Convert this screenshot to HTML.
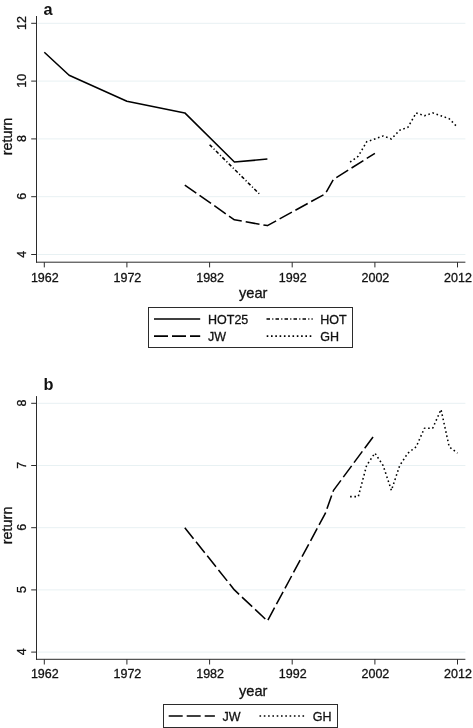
<!DOCTYPE html>
<html><head><meta charset="utf-8"><title>return by year</title>
<style>
html,body{margin:0;padding:0;background:#fff;}
body{width:473px;height:728px;overflow:hidden;}
svg{display:block;}
text{font-family:"Liberation Sans",Arial,Helvetica,sans-serif;fill:#111;stroke:#111;stroke-width:0.3px;}
.t{font-size:12.5px;}
.l{font-size:14.6px;}
.h{font-size:16.3px;font-weight:bold;fill:#111;stroke:none;}
.d{fill:none;stroke:#000;stroke-width:1.55;stroke-linejoin:round;}
</style></head><body>
<svg width="473" height="728" viewBox="0 0 473 728">
<rect width="473" height="728" fill="#fff"/>
<line x1="37.5" y1="23.3" x2="465.4" y2="23.3" stroke="#e8f1f3" stroke-width="1"/>
<line x1="37.5" y1="81.1" x2="465.4" y2="81.1" stroke="#e8f1f3" stroke-width="1"/>
<line x1="37.5" y1="138.9" x2="465.4" y2="138.9" stroke="#e8f1f3" stroke-width="1"/>
<line x1="37.5" y1="196.7" x2="465.4" y2="196.7" stroke="#e8f1f3" stroke-width="1"/>
<line x1="37.5" y1="254.5" x2="465.4" y2="254.5" stroke="#e8f1f3" stroke-width="1"/>
<line x1="36.5" y1="16" x2="36.5" y2="262.7" stroke="#2b2b2b" stroke-width="1"/>
<line x1="36" y1="262.2" x2="465.4" y2="262.2" stroke="#2b2b2b" stroke-width="1"/>
<line x1="31.2" y1="23.3" x2="36.5" y2="23.3" stroke="#2b2b2b" stroke-width="1"/>
<text class="t" text-anchor="middle" transform="translate(26.1 23.0) rotate(-90)">12</text>
<line x1="31.2" y1="81.1" x2="36.5" y2="81.1" stroke="#2b2b2b" stroke-width="1"/>
<text class="t" text-anchor="middle" transform="translate(26.1 80.8) rotate(-90)">10</text>
<line x1="31.2" y1="138.9" x2="36.5" y2="138.9" stroke="#2b2b2b" stroke-width="1"/>
<text class="t" text-anchor="middle" transform="translate(26.1 138.6) rotate(-90)">8</text>
<line x1="31.2" y1="196.7" x2="36.5" y2="196.7" stroke="#2b2b2b" stroke-width="1"/>
<text class="t" text-anchor="middle" transform="translate(26.1 196.4) rotate(-90)">6</text>
<line x1="31.2" y1="254.5" x2="36.5" y2="254.5" stroke="#2b2b2b" stroke-width="1"/>
<text class="t" text-anchor="middle" transform="translate(26.1 254.2) rotate(-90)">4</text>
<line x1="44.3" y1="262.2" x2="44.3" y2="267.4" stroke="#2b2b2b" stroke-width="1"/>
<text class="t" text-anchor="middle" x="44.8" y="281.5">1962</text>
<line x1="126.9" y1="262.2" x2="126.9" y2="267.4" stroke="#2b2b2b" stroke-width="1"/>
<text class="t" text-anchor="middle" x="127.4" y="281.5">1972</text>
<line x1="209.6" y1="262.2" x2="209.6" y2="267.4" stroke="#2b2b2b" stroke-width="1"/>
<text class="t" text-anchor="middle" x="210.1" y="281.5">1982</text>
<line x1="292.2" y1="262.2" x2="292.2" y2="267.4" stroke="#2b2b2b" stroke-width="1"/>
<text class="t" text-anchor="middle" x="292.7" y="281.5">1992</text>
<line x1="374.9" y1="262.2" x2="374.9" y2="267.4" stroke="#2b2b2b" stroke-width="1"/>
<text class="t" text-anchor="middle" x="375.4" y="281.5">2002</text>
<line x1="457.5" y1="262.2" x2="457.5" y2="267.4" stroke="#2b2b2b" stroke-width="1"/>
<text class="t" text-anchor="middle" x="458.0" y="281.5">2012</text>
<text class="l" style="font-size:14.4px" text-anchor="middle" transform="translate(12.4 136.5) rotate(-90)">return</text>
<text class="l" text-anchor="middle" x="253.2" y="298.4">year</text>
<text class="h" x="43.4" y="14.6">a</text>
<polyline class="d" points="44.3,52.2 69.1,75.3 126.9,101.3 184.8,112.9 234.4,162.0 267.4,159.1"/>
<polyline class="d" stroke-dasharray="3.5 2.25 1.1 2.15" points="209.6,144.7 259.2,193.8"/>
<polyline class="d" stroke-dasharray="14 4" points="184.8,185.1 234.4,219.8 267.4,225.6 325.3,193.8 333.5,179.4 374.9,153.3"/>
<polyline class="d" stroke-dasharray="1.6 2.7" points="350.1,162.0 358.3,156.2 366.6,141.8 374.9,138.9 383.1,136.0 391.4,138.9 399.7,130.2 407.9,127.3 416.2,112.9 424.4,115.8 432.7,112.9 441.0,115.8 449.2,118.7 457.5,127.3"/>
<rect x="148.5" y="307.5" width="204" height="40" fill="#fff" stroke="#2b2b2b" stroke-width="1"/>
<line class="d" x1="154" y1="318.9" x2="200.2" y2="318.9"/>
<text class="t" x="208" y="324.0">HOT25</text>
<line class="d" stroke-dasharray="14 4" x1="154" y1="336.1" x2="200.2" y2="336.1"/>
<text class="t" x="208" y="341.0">JW</text>
<line class="d" stroke-dasharray="3.5 2.25 1.1 2.15" x1="266.5" y1="318.9" x2="312.7" y2="318.9"/>
<text class="t" x="320.3" y="324.0">HOT</text>
<line class="d" stroke-dasharray="1.6 2.7" x1="266.7" y1="336.1" x2="312.7" y2="336.1"/>
<text class="t" x="320.3" y="341.0">GH</text>
<line x1="37.5" y1="403.3" x2="465.4" y2="403.3" stroke="#e8f1f3" stroke-width="1"/>
<line x1="37.5" y1="465.5" x2="465.4" y2="465.5" stroke="#e8f1f3" stroke-width="1"/>
<line x1="37.5" y1="527.7" x2="465.4" y2="527.7" stroke="#e8f1f3" stroke-width="1"/>
<line x1="37.5" y1="589.9" x2="465.4" y2="589.9" stroke="#e8f1f3" stroke-width="1"/>
<line x1="37.5" y1="652.1" x2="465.4" y2="652.1" stroke="#e8f1f3" stroke-width="1"/>
<line x1="36.5" y1="396.1" x2="36.5" y2="659.8" stroke="#2b2b2b" stroke-width="1"/>
<line x1="36" y1="659.3" x2="465.4" y2="659.3" stroke="#2b2b2b" stroke-width="1"/>
<line x1="31.2" y1="403.3" x2="36.5" y2="403.3" stroke="#2b2b2b" stroke-width="1"/>
<text class="t" text-anchor="middle" transform="translate(26.1 403.0) rotate(-90)">8</text>
<line x1="31.2" y1="465.5" x2="36.5" y2="465.5" stroke="#2b2b2b" stroke-width="1"/>
<text class="t" text-anchor="middle" transform="translate(26.1 465.2) rotate(-90)">7</text>
<line x1="31.2" y1="527.7" x2="36.5" y2="527.7" stroke="#2b2b2b" stroke-width="1"/>
<text class="t" text-anchor="middle" transform="translate(26.1 527.4) rotate(-90)">6</text>
<line x1="31.2" y1="589.9" x2="36.5" y2="589.9" stroke="#2b2b2b" stroke-width="1"/>
<text class="t" text-anchor="middle" transform="translate(26.1 589.6) rotate(-90)">5</text>
<line x1="31.2" y1="652.1" x2="36.5" y2="652.1" stroke="#2b2b2b" stroke-width="1"/>
<text class="t" text-anchor="middle" transform="translate(26.1 651.8) rotate(-90)">4</text>
<line x1="44.3" y1="659.3" x2="44.3" y2="664.5" stroke="#2b2b2b" stroke-width="1"/>
<text class="t" text-anchor="middle" x="44.8" y="677.9">1962</text>
<line x1="126.9" y1="659.3" x2="126.9" y2="664.5" stroke="#2b2b2b" stroke-width="1"/>
<text class="t" text-anchor="middle" x="127.4" y="677.9">1972</text>
<line x1="209.6" y1="659.3" x2="209.6" y2="664.5" stroke="#2b2b2b" stroke-width="1"/>
<text class="t" text-anchor="middle" x="210.1" y="677.9">1982</text>
<line x1="292.2" y1="659.3" x2="292.2" y2="664.5" stroke="#2b2b2b" stroke-width="1"/>
<text class="t" text-anchor="middle" x="292.7" y="677.9">1992</text>
<line x1="374.9" y1="659.3" x2="374.9" y2="664.5" stroke="#2b2b2b" stroke-width="1"/>
<text class="t" text-anchor="middle" x="375.4" y="677.9">2002</text>
<line x1="457.5" y1="659.3" x2="457.5" y2="664.5" stroke="#2b2b2b" stroke-width="1"/>
<text class="t" text-anchor="middle" x="458.0" y="677.9">2012</text>
<text class="l" style="font-size:14.4px" text-anchor="middle" transform="translate(12.4 525.4) rotate(-90)">return</text>
<text class="l" text-anchor="middle" x="253.2" y="695.8">year</text>
<text class="h" x="43.4" y="390.2">b</text>
<polyline class="d" stroke-dasharray="14 4" points="184.8,527.7 234.4,589.9 267.4,621.0 325.3,513.4 333.5,490.4 374.9,434.4"/>
<polyline class="d" stroke-dasharray="1.6 2.7" points="350.1,496.6 358.3,496.6 366.6,465.5 374.9,453.1 383.1,465.5 391.4,490.4 399.7,465.5 407.9,453.1 416.2,446.8 424.4,428.2 432.7,428.2 441.0,409.5 449.2,446.8 457.5,453.1"/>
<rect x="163.5" y="704.5" width="174" height="23" fill="#fff" stroke="#2b2b2b" stroke-width="1"/>
<line class="d" stroke-dasharray="14 4" x1="168.7" y1="716.0" x2="214.9" y2="716.0"/>
<text class="t" x="222.6" y="720.6">JW</text>
<line class="d" stroke-dasharray="1.6 2.7" x1="259.5" y1="716.0" x2="305.7" y2="716.0"/>
<text class="t" x="312.7" y="720.6">GH</text>
</svg></body></html>
